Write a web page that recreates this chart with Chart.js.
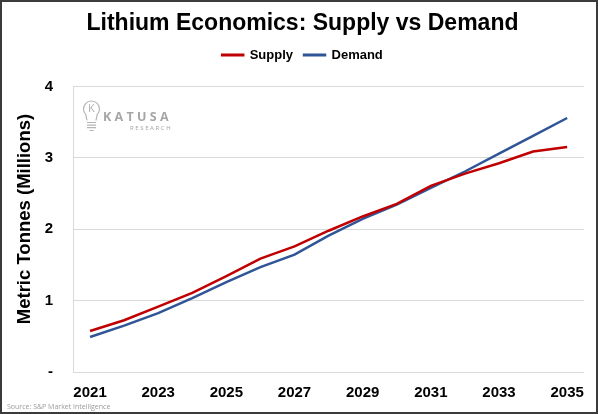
<!DOCTYPE html>
<html>
<head>
<meta charset="utf-8">
<script src="https://cdn.jsdelivr.net/npm/chart.js@4.4.1/dist/chart.umd.min.js"></script>
<style>
  html, body { margin: 0; padding: 0; background: #fff; }
  #frame {
    width: 598px; height: 414px; box-sizing: border-box;
    border: 2px solid #3b3b3b; position: relative; background: #fff;
  }
  #wrap { position: absolute; left: 0; top: 0; width: 594px; height: 410px; }
</style>
</head>
<body>
<div id="frame"><div id="wrap"><canvas id="chartLithium"></canvas></div></div>
<script>
// --- datos ---
const years = ['2021', '2022', '2023', '2024', '2025', '2026', '2027', '2028',
               '2029', '2030', '2031', '2032', '2033', '2034', '2035'];
const supply = [0.575, 0.725, 0.917, 1.11, 1.345, 1.59, 1.76, 1.98,
                2.18, 2.355, 2.61, 2.78, 2.925, 3.09, 3.155];
const demand = [0.49, 0.65, 0.825, 1.035, 1.26, 1.47, 1.645, 1.91,
                2.145, 2.345, 2.58, 2.81, 3.06, 3.31, 3.56];
const yTicks = ['-', '1', '2', '3', '4'];

const FONT = '"Liberation Sans", Arial, sans-serif';

// espacio extra bajo la leyenda
const legendSpace = {
    id: 'legendSpace',
    beforeInit(chart) {
        const fit = chart.legend.fit;
        chart.legend.fit = function () {
            fit.bind(chart.legend)();
            this.height += 15;
        };
    }
};

// marca de agua + fuente
const katusaPlugin = {
    id: 'katusa',
    beforeDatasetsDraw(chart) {
        const c = chart.ctx;
        c.save();
        // bombilla
        c.strokeStyle = '#b5b5b5';
        c.lineWidth = 1.2;
        c.beginPath();
        c.arc(89.5, 107, 8, Math.PI * 0.75, Math.PI * 2.25);
        c.lineTo(94, 118.5);
        c.moveTo(83.8, 112.6);
        c.lineTo(85, 118.5);
        c.stroke();
        c.beginPath();
        for (let i = 0; i < 3; i++) {
            c.moveTo(85, 120.5 + i * 2.6);
            c.lineTo(94, 120.5 + i * 2.6);
        }
        c.moveTo(87.5, 128.5);
        c.lineTo(91.5, 128.5);
        c.stroke();
        c.font = '10px ' + FONT;
        c.fillStyle = '#b5b5b5';
        c.textAlign = 'center';
        c.textBaseline = 'middle';
        c.fillText('K', 89.5, 107);
        // texto
        c.textAlign = 'left';
        c.textBaseline = 'alphabetic';
        c.fillStyle = '#a6a6a6';
        c.font = 'bold 12.5px "Open Sans", Arial, sans-serif';
        c.letterSpacing = '3.3px';
        c.fillText('KATUSA', 101, 119);
        c.font = '6px "Open Sans", Arial, sans-serif';
        c.letterSpacing = '1.6px';
        c.fillText('RESEARCH', 128, 127.5);
        c.restore();
    },
    afterDraw(chart) {
        const c = chart.ctx;
        c.save();
        c.font = '7px "Open Sans", Arial, sans-serif';
        c.fillStyle = '#9a9a9a';
        c.textAlign = 'left';
        c.fillText('Source: S&P Market Intelligence', 5, 405);
        c.restore();
    }
};

document.addEventListener('DOMContentLoaded', function () {
    const ctx = document.getElementById('chartLithium');
    if (ctx) {
        new Chart(ctx.getContext('2d'), {
            type: 'line',
            data: {
                labels: years,
                datasets: [{
                    label: 'Supply',
                    data: supply,
                    borderColor: '#c00000',
                    backgroundColor: '#c00000',
                    borderWidth: 2.5,
                    pointRadius: 0,
                    tension: 0
                }, {
                    label: 'Demand',
                    data: demand,
                    borderColor: '#2f5597',
                    backgroundColor: '#2f5597',
                    borderWidth: 2.5,
                    pointRadius: 0,
                    tension: 0
                }]
            },
            options: {
                responsive: true,
                maintainAspectRatio: false,
                animation: false,
                layout: { padding: { top: 8, left: 12, right: 5, bottom: -2 } },
                plugins: {
                    title: {
                        display: true,
                        text: 'Lithium Economics: Supply vs Demand',
                        color: '#000',
                        font: { family: FONT, size: 23, weight: 'bold' },
                        padding: { top: 0, bottom: 0 }
                    },
                    legend: {
                        labels: {
                            color: '#000',
                            boxWidth: 21,
                            boxHeight: 0.5,
                            padding: 11,
                            font: { family: FONT, size: 13, weight: 'bold' }
                        }
                    },
                    tooltip: { enabled: false }
                },
                scales: {
                    x: {
                        offset: true,
                        grid: { display: false, drawTicks: false },
                        border: { display: false },
                        ticks: {
                            autoSkip: false,
                            maxRotation: 0,
                            padding: 12,
                            color: '#000',
                            font: { family: FONT, size: 15, weight: 'bold' },
                            callback: function (val, i) { return i % 2 === 0 ? years[i] : ''; }
                        }
                    },
                    y: {
                        min: 0,
                        max: 4,
                        afterFit: function (scale) { scale.width = 59; },
                        grid: { color: '#d9d9d9', drawTicks: false },
                        border: { display: true, color: '#d9d9d9' },
                        title: {
                            display: true,
                            // espacios iniciales: el titulo queda algo mas arriba, como en el original
                            text: '    Metric Tonnes (Millions)',
                            color: '#000',
                            font: { family: FONT, size: 18.5, weight: 'bold' },
                            padding: { top: 0, bottom: 8 }
                        },
                        ticks: {
                            stepSize: 1,
                            padding: 20,
                            color: '#000',
                            font: { family: FONT, size: 15, weight: 'bold' },
                            callback: function (val) { return yTicks[val]; }
                        }
                    }
                }
            },
            plugins: [legendSpace, katusaPlugin]
        });
    }
});
</script>
</body>
</html>
